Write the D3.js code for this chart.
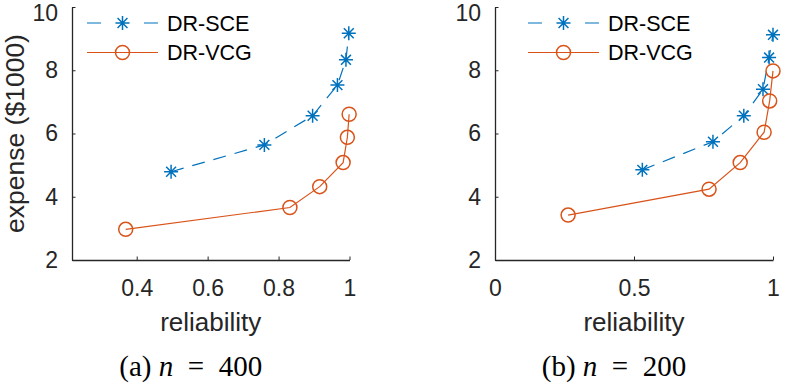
<!DOCTYPE html>
<html>
<head>
<meta charset="utf-8">
<script src="https://cdn.jsdelivr.net/npm/d3@7"></script>
<style>
  html, body { margin: 0; padding: 0; background: #fff; }
  svg { display: block; }
</style>
</head>
<body>
<svg id="chart" width="786" height="384"></svg>
<script>
// ---- Data ----
const seriesNames = ["DR-SCE", "DR-VCG"];

// Panel (a) n = 400
const aSceReliability = [0.497, 0.760, 0.896, 0.966, 0.990, 0.998];
const aSceExpense     = [4.79, 5.64, 6.56, 7.53, 8.33, 9.17];
const aVcgReliability = [0.369, 0.832, 0.916, 0.982, 0.994, 0.999];
const aVcgExpense     = [2.97, 3.66, 4.32, 5.08, 5.88, 6.61];

// Panel (b) n = 200
const bSceReliability = [0.530, 0.784, 0.895, 0.964, 0.986, 1.000];
const bSceExpense     = [4.85, 5.74, 6.56, 7.40, 8.40, 9.12];
const bVcgReliability = [0.263, 0.770, 0.882, 0.968, 0.988, 1.000];
const bVcgExpense     = [3.42, 4.24, 5.08, 6.04, 7.03, 7.98];

const yTicks = [2, 4, 6, 8, 10];
const aXTicks = [0.4, 0.6, 0.8, 1];
const bXTicks = [0, 0.5, 1];
const aXTickLabels = ["0.4", "0.6", "0.8", "1"];
const bXTickLabels = ["0", "0.5", "1"];

const xLabel = "reliability";
const yLabel = "expense ($1000)";
const captions = [["(a) ", "n", " = 400"], ["(b) ", "n", " = 200"]];

// ---- Styling ----
const axisColor = "#262626";
const colors = ["#0072BD", "#D95319"];
const sansFont = "'Liberation Sans', Arial, Helvetica, sans-serif";
const serifFont = "'Liberation Serif', 'Times New Roman', serif";

const svg = d3.select("#chart");

const panels = [
  {
    xDomain: [0.2176, 1], xRange: [72, 349.5],
    xTicks: aXTicks, xTickLabels: aXTickLabels,
    series: [
      d3.zip(aSceReliability, aSceExpense),
      d3.zip(aVcgReliability, aVcgExpense)
    ],
    legendX: 87, caption: captions[0], showYLabel: true
  },
  {
    xDomain: [0, 1], xRange: [495, 773],
    xTicks: bXTicks, xTickLabels: bXTickLabels,
    series: [
      d3.zip(bSceReliability, bSceExpense),
      d3.zip(bVcgReliability, bVcgExpense)
    ],
    legendX: 528, caption: captions[1], showYLabel: false
  }
];

function drawAsterisk(g, cx, cy, r, color) {
  const d = r * Math.SQRT1_2;
  const p = `M${cx - r},${cy}L${cx + r},${cy}M${cx},${cy - r}L${cx},${cy + r}` +
            `M${cx - d},${cy - d}L${cx + d},${cy + d}M${cx - d},${cy + d}L${cx + d},${cy - d}`;
  g.append("path").attr("d", p).attr("stroke", color).attr("stroke-width", 1.5).attr("fill", "none");
}
function drawCircle(g, cx, cy, r, color) {
  g.append("circle").attr("cx", cx).attr("cy", cy).attr("r", r)
    .attr("stroke", color).attr("stroke-width", 1.5).attr("fill", "none");
}
const markerFns = [
  (g, x, y) => drawAsterisk(g, x, y, 7, colors[0]),
  (g, x, y) => drawCircle(g, x, y, 7, colors[1])
];
const dashes = ["13,9", null];

panels.forEach(p => {
  const x = d3.scaleLinear().domain(p.xDomain).range(p.xRange);
  const y = d3.scaleLinear().domain([2, 10]).range([260, 7]);
  const g = svg.append("g");

  // Axes
  const xAxis = d3.axisBottom(x).tickValues(p.xTicks)
    .tickFormat((d, i) => p.xTickLabels[i]).tickSizeInner(-3.5).tickSizeOuter(0).tickPadding(20);
  const yAxis = d3.axisLeft(y).tickValues(yTicks)
    .tickFormat(d3.format("d")).tickSizeInner(-3.5).tickSizeOuter(0).tickPadding(14);

  const gx = g.append("g").attr("transform", `translate(0,${y(2)})`).call(xAxis);
  const gy = g.append("g").attr("transform", `translate(${p.xRange[0]},0)`).call(yAxis);
  [gx, gy].forEach(a => {
    a.select(".domain").attr("stroke", axisColor).attr("stroke-width", 1.3);
    a.selectAll(".tick line").attr("stroke", axisColor).attr("stroke-width", 1);
    a.selectAll(".tick text").attr("fill", axisColor)
      .style("font-family", sansFont).style("font-size", "23px");
  });
  // top label sits slightly lower, as in the reference (keeps it inside the frame)
  gy.selectAll(".tick text").filter(d => d === 10).attr("y", 6.5);

  // Axis labels
  g.append("text")
    .attr("x", (p.xRange[0] + p.xRange[1]) / 2).attr("y", 331)
    .attr("text-anchor", "middle").attr("fill", axisColor)
    .style("font-family", sansFont).style("font-size", "26px")
    .text(xLabel);
  if (p.showYLabel) {
    g.append("text")
      .attr("transform", `translate(24,${(y(2) + y(10)) / 2}) rotate(-90)`)
      .attr("text-anchor", "middle").attr("fill", axisColor)
      .style("font-family", sansFont).style("font-size", "26.5px")
      .text(yLabel);
  }

  // Series
  const line = d3.line().x(d => x(d[0])).y(d => y(d[1]));
  p.series.forEach((s, i) => {
    g.append("path").datum(s).attr("d", line)
      .attr("fill", "none").attr("stroke", colors[i]).attr("stroke-width", 1.2)
      .attr("stroke-dasharray", dashes[i]);
    s.forEach(d => markerFns[i](g, x(d[0]), y(d[1])));
  });

  // Legend
  const legY = [23, 52.5];
  seriesNames.forEach((name, i) => {
    const lx0 = p.legendX, lx1 = p.legendX + 71;
    g.append("line").attr("x1", lx0).attr("x2", lx1).attr("y1", legY[i]).attr("y2", legY[i])
      .attr("stroke", colors[i]).attr("stroke-width", 1.2).attr("stroke-dasharray", dashes[i] ? "14,43,14" : null);
    markerFns[i](g, (lx0 + lx1) / 2, legY[i]);
    g.append("text").attr("x", lx1 + 9).attr("y", legY[i]).attr("dy", "0.36em")
      .attr("fill", "#000").style("font-family", sansFont).style("font-size", "21.5px")
      .text(name);
  });

  // Caption
  const cap = g.append("text")
    .attr("x", (p.xRange[0] + p.xRange[1]) / 2 - 20).attr("y", 376)
    .attr("text-anchor", "middle").attr("fill", "#000")
    .style("font-family", serifFont).style("font-size", "29px");
  cap.append("tspan").text(p.caption[0]);
  cap.append("tspan").style("font-style", "italic").text(p.caption[1]);
  cap.append("tspan").style("white-space", "pre").text(p.caption[2].replace(/ = /, "\u2002=\u2002"));
});
</script>
</body>
</html>
